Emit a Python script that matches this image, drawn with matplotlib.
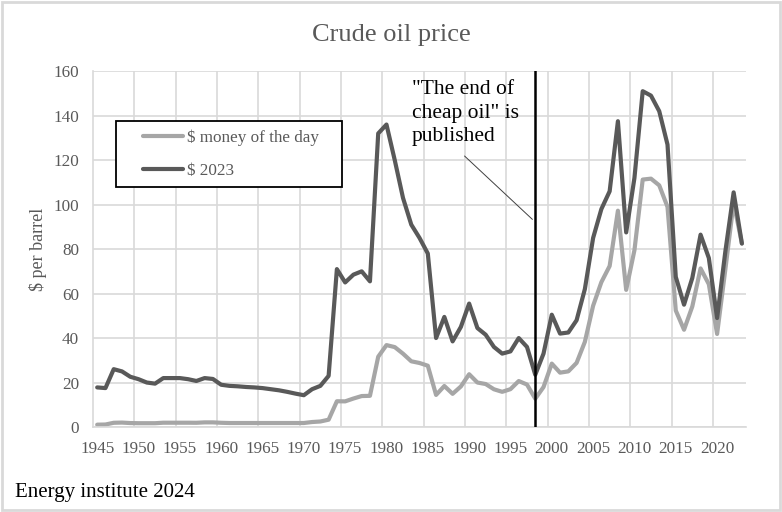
import matplotlib
matplotlib.use('Agg')
import matplotlib.pyplot as plt
import numpy as np

plt.rcParams['font.family'] = ['Liberation Serif', 'DejaVu Serif']

# Data
years = list(range(1945, 2024))
money_of_day = [1.05, 1.12, 1.90, 1.99, 1.78, 1.71, 1.71, 1.71, 1.93, 1.93,
                1.93, 1.93, 1.90, 2.08, 2.08, 1.90, 1.80, 1.80, 1.80, 1.80,
                1.80, 1.80, 1.80, 1.80, 1.80, 1.80, 2.24, 2.48, 3.29, 11.58,
                11.53, 12.80, 13.92, 14.02, 31.61, 36.83, 35.93, 32.97, 29.55, 28.78,
                27.56, 14.43, 18.44, 14.92, 18.23, 23.73, 20.00, 19.32, 16.97, 15.82,
                17.02, 20.67, 19.09, 12.72, 17.97, 28.50, 24.44, 25.02, 28.83, 38.27,
                54.52, 65.14, 72.39, 97.26, 61.67, 79.50, 111.26, 111.67, 108.66, 98.95,
                52.39, 43.73, 54.19, 71.31, 64.21, 41.84, 70.91, 100.93, 82.49]
dollars_2023 = [17.8, 17.5, 26.0, 25.0, 22.6, 21.5, 20.0, 19.5, 22.0, 22.0,
                22.0, 21.5, 20.7, 22.0, 21.6, 19.0, 18.5, 18.3, 18.0, 17.8,
                17.5, 17.0, 16.5, 15.8, 15.0, 14.3, 17.0, 18.5, 23.0, 71.0,
                65.0, 68.5, 70.0, 65.5, 132.0, 136.0, 120.0, 103.0, 91.0, 85.0,
                78.0, 40.0, 49.5, 38.5, 45.0, 55.5, 44.5, 41.5, 36.0, 33.0,
                34.0, 40.0, 36.0, 23.5, 33.0, 50.5, 42.0, 42.5, 48.0, 62.0,
                85.0, 98.0, 106.0, 137.5, 87.5, 112.0, 151.0, 149.0, 142.0, 127.0,
                67.5, 55.0, 67.0, 86.5, 76.0, 49.0, 79.0, 105.5, 82.5]
tick_years = list(range(1945, 2021, 5))
event_year = 1998

grey_text = '#595959'

fig = plt.figure(figsize=(7.82, 5.12), dpi=100)
ax = fig.add_axes([0.119, 0.166, 0.835, 0.695])

ax.plot(years, money_of_day, color='#A6A6A6', linewidth=3, label='$ money of the day',
        solid_joinstyle='round', solid_capstyle='round')
ax.plot(years, dollars_2023, color='#595959', linewidth=3, label='$ 2023',
        solid_joinstyle='round', solid_capstyle='round')

# Vertical marker line
ax.axvline(event_year, color='black', linewidth=1.8, zorder=5)

ax.set_xlim(1944.5, 2023.5)
ax.set_ylim(0, 160)
ax.set_yticks(np.arange(0, 161, 20))
ax.set_xticks(tick_years)
ax.set_xticks(np.arange(1949.5, 2023, 5), minor=True)
ax.grid(False)
ax.yaxis.grid(True, color='#D9D9D9', linewidth=1.2)
ax.xaxis.grid(True, which='minor', color='#D9D9D9', linewidth=1.2)
ax.set_axisbelow(True)
ax.tick_params(axis='both', which='both', length=0, colors=grey_text, labelsize=12.3)
ax.tick_params(axis='x', pad=10)
ax.tick_params(axis='y', pad=10)
for s in ['top', 'right']:
    ax.spines[s].set_visible(False)
ax.spines['left'].set_color('#D9D9D9')
ax.spines['bottom'].set_color('#D9D9D9')
ax.spines['left'].set_linewidth(1.2)
ax.spines['bottom'].set_linewidth(1.2)

ax.set_ylabel('$ per barrel', color=grey_text, fontsize=13)
ax.yaxis.set_label_coords(-0.0706, 0.5)

fig.text(0.5, 0.932, 'Crude oil price', ha='center', va='center', color=grey_text, fontsize=19)

# Legend with a hand-drawn box around it
ax.add_patch(plt.Rectangle((0.0352, 0.674), 0.346, 0.186, transform=ax.transAxes,
                           fill=True, facecolor='white', edgecolor='black',
                           linewidth=1.3, zorder=6))
leg = ax.legend(loc='upper left', bbox_to_anchor=(0.0766, 0.836), frameon=False,
                fontsize=12.3, labelcolor=grey_text, handlelength=2.35,
                handletextpad=0.24, borderpad=0, borderaxespad=0, labelspacing=1.0)
leg.set_zorder(7)
for line in leg.get_lines():
    line.set_linewidth(3)

ax.text(1983.1, 156, '"The end of\ncheap oil" is\npublished', ha='left', va='top',
        fontsize=15.5, color='black', linespacing=1.33)
ax.annotate('', xy=(event_year - 0.1, 92.5), xytext=(1989.2, 122.7),
            arrowprops=dict(arrowstyle='-', color='#404040', linewidth=0.7))

fig.text(0.019, 0.039, 'Energy institute 2024', ha='left', va='center', fontsize=15, color='black')

# Light border round the whole picture
fig.patches.append(plt.Rectangle((0.002, 0.003), 0.996, 0.994, transform=fig.transFigure,
                                 fill=False, edgecolor='#D9D9D9', linewidth=2))

fig.savefig('out.png', dpi=100)
